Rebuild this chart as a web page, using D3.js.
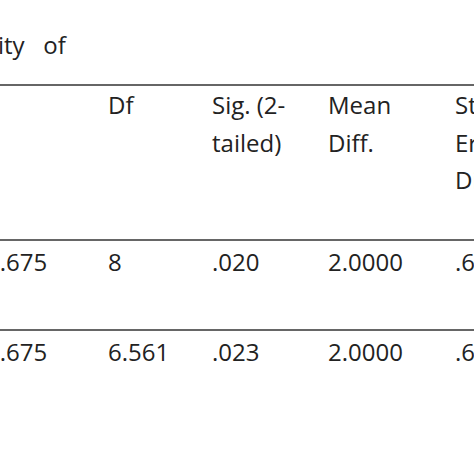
<!DOCTYPE html><html><head><script src="https://cdn.jsdelivr.net/npm/d3@7"></script>
<style>body{margin:0;background:#fff}</style></head><body><svg id="c" width="474" height="474"></svg>
<script>
const colX = [-14, 108, 212, 328, 455];
const headers = [["T"],["Df"],["Sig. (2-","tailed)"],["Mean","Diff."],["Std.","Error","Diff."]];
const row1 = ["2.675","8",".020","2.0000",".6"];
const row2 = ["2.675","6.561",".023","2.0000",".6"];
const lines = [85, 240, 330];
const svg = d3.select("#c");
const f = "'Open Sans', Lato, sans-serif";
svg.append("text").attr("x",-2).attr("y",54).attr("font-family",f).attr("font-size",24).attr("fill","#222").attr("xml:space","preserve").text("ity   of");
svg.selectAll("line").data(lines).enter().append("line").attr("x1",0).attr("x2",474)
 .attr("y1",d=>d).attr("y2",d=>d).attr("stroke","#333").attr("stroke-width",1.5);
headers.forEach((h,i)=>h.forEach((t,j)=>svg.append("text").attr("x",colX[i]).attr("y",114+j*37.5)
 .attr("font-family",f).attr("font-size",24).attr("fill","#222").text(t)));
[[row1,271],[row2,361]].forEach(([r,y])=>r.forEach((t,i)=>svg.append("text").attr("x",colX[i]).attr("y",y)
 .attr("font-family",f).attr("font-size",24).attr("fill","#222").text(t)));
</script></body></html>
